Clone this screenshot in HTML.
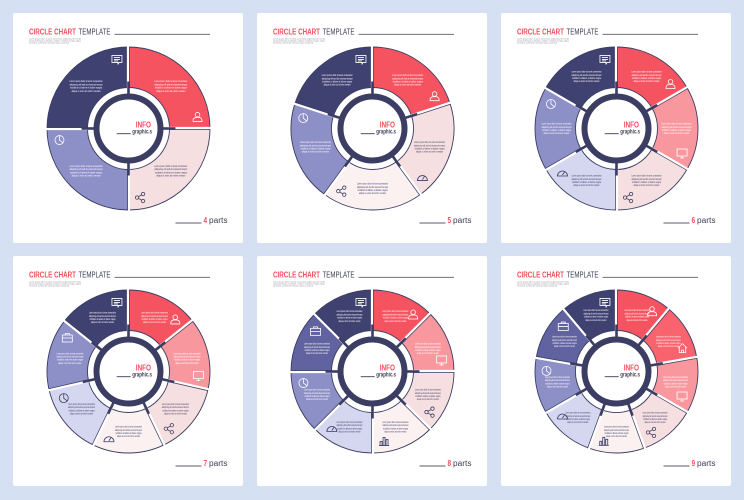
<!DOCTYPE html>
<html><head><meta charset="utf-8"><style>
body{margin:0;background:#d5e1f3}
svg{display:block}
.tt{font-family:"Liberation Sans",sans-serif;font-size:7.8px}
.ds{font-family:"Liberation Sans",sans-serif;font-size:1.8px;fill:#7a7a88}
.in{font-family:"Liberation Sans",sans-serif;font-weight:bold;font-size:8px;fill:#f04f5d;text-anchor:end}
.gs{font-family:"Liberation Sans",sans-serif;font-weight:bold;font-size:6px;fill:#3b3d55;text-anchor:end}
.pn{font-family:"Liberation Sans",sans-serif;font-weight:bold;font-size:7.8px;fill:#f04f5d}
.pt{font-family:"Liberation Sans",sans-serif;font-size:7.8px;fill:#3b3d55}
.tb text{font-family:"Liberation Sans",sans-serif;font-size:2.6px;text-anchor:middle}
.w text{fill:#fff}.d text{fill:#3b3d63}
.iw{fill:none;stroke:#fff;stroke-width:.8}
.id{fill:none;stroke:#3b3d63;stroke-width:.8}
.sg{stroke:#3b3d63;stroke-width:.9}
.rg{fill:#fff;stroke:#3b3d63;stroke-width:6}
</style></head><body>
<svg width="744" height="500" viewBox="0 0 744 500" xmlns="http://www.w3.org/2000/svg">
<defs>
<path id="s4" d="M0-81.5A81.5 81.5 0 0 1 81.5 0L41 0A41 41 0 0 0 0-41Z"/>
<path id="s5" d="M0-81.5A81.5 81.5 0 0 1 77.511-25.185L38.993-12.670A41 41 0 0 0 0-41Z"/>
<path id="s6" d="M0-81.5A81.5 81.5 0 0 1 70.581-40.75L35.507-20.5A41 41 0 0 0 0-41Z"/>
<path id="s7" d="M0-81.5A81.5 81.5 0 0 1 63.719-50.814L32.055-25.563A41 41 0 0 0 0-41Z"/>
<path id="s8" d="M0-81.5A81.5 81.5 0 0 1 57.629-57.629L28.991-28.991A41 41 0 0 0 0-41Z"/>
<path id="s9" d="M0-81.5A81.5 81.5 0 0 1 52.387-62.433L26.354-31.408A41 41 0 0 0 0-41Z"/>
<g id="sp"><line x1="-.5" y1="-39" x2="-.5" y2="-84" stroke="#fff" stroke-width="2.2"/><line x1="1" y1="-41" x2="1" y2="-81.5" stroke="#3b3d63" stroke-width=".7"/><line x1="0" y1="-33" x2="0" y2="-47" stroke="#3b3d63" stroke-width="2.6"/></g>
<g id="i-chat"><path d="M-5-4h10v7h-3l-1 2v-2h-6z"/><path d="M-3-2h6M-3 0h6M-3 1.5h4"/></g>
<g id="i-user"><circle cy="-2.2" r="2.3"/><path d="M-4.5 4.5v-1a3 3 0 0 1 3-3h3a3 3 0 0 1 3 3v1z"/></g>
<g id="i-pie"><circle r="4.5"/><path d="M0-4.5V0l3.5 2.8"/></g>
<g id="i-share"><circle cx="-3" cy="0" r="1.7"/><circle cx="3" cy="-3.5" r="1.7"/><circle cx="3" cy="3.5" r="1.7"/><path d="M-1.5-.9l3-1.7M-1.5.9l3 1.7"/></g>
<g id="i-gauge"><path d="M-5 3a5 5 0 1 1 10 0z"/><path d="M0 2l2-3"/></g>
<g id="i-mon"><rect x="-5" y="-4" width="10" height="7"/><path d="M-2 5h4M0 3v2"/></g>
<g id="i-case"><rect x="-5" y="-2.5" width="10" height="7"/><path d="M-2-2.5v-1.5h4v1.5M-5 .5h10"/></g>
<g id="i-home"><path d="M-4.5 0L0-4.5 4.5 0M-3.2-1.2V4.5h6.4V-1.2"/><path d="M-1 4.5v-2.5h2v2.5"/></g>
<g id="i-bars"><path d="M-5 5h10M-4 5v-4h2v4M-1 5v-8h2v8M2 5v-6h2v6"/></g>
</defs>
<rect width="744" height="500" fill="#d5e1f3"/>

<!-- CARD 1 : 4 parts -->
<g transform="translate(13,13)">
<rect width="230" height="230" rx="2" fill="#fff"/>
<text class="tt" x="16" y="21.3" textLength="47" lengthAdjust="spacingAndGlyphs" fill="#f04f5d" font-weight="bold">CIRCLE CHART</text>
<text class="tt" x="65.5" y="21.3" textLength="32" lengthAdjust="spacingAndGlyphs" fill="#3a3c52">TEMPLATE</text>
<line x1="101.5" y1="21.3" x2="197" y2="21.3" stroke="#5a5b6e" stroke-width=".9"/>
<text class="ds" x="16" y="26.3" textLength="52" lengthAdjust="spacingAndGlyphs">Lorem ipsum dolor sit amet consectetur adipiscing elit sed do</text>
<text class="ds" x="16" y="28.3" textLength="52" lengthAdjust="spacingAndGlyphs">eiusmod tempor incididunt ut labore et dolore magna aliqua</text>
<text class="ds" x="16" y="30.3" textLength="40" lengthAdjust="spacingAndGlyphs">Ut enim ad minim veniam quis nostrud</text>
<g transform="translate(115.5,115.5)">
<g class="sg">
<use href="#s4" fill="#f65360"/>
<use href="#s4" fill="#f6dfe0" transform="rotate(90)"/>
<use href="#s4" fill="#8d8fc7" transform="rotate(180)"/>
<use href="#s4" fill="#3f4171" transform="rotate(270)"/>
</g>
<use href="#sp"/><use href="#sp" transform="rotate(90)"/><use href="#sp" transform="rotate(180)"/><use href="#sp" transform="rotate(270)"/>
<circle class="rg" r="32"/>
<g class="tb w" transform="rotate(45) translate(0,-60) rotate(-45)"><text y="-3.9" textLength="33" lengthAdjust="spacingAndGlyphs">Lorem ipsum dolor sit amet consectetur</text><text y="-.7" textLength="33" lengthAdjust="spacingAndGlyphs">adipiscing elit sed do eiusmod tempor</text><text y="2.5" textLength="32" lengthAdjust="spacingAndGlyphs">incididunt ut labore et dolore magna</text><text y="5.7" textLength="29" lengthAdjust="spacingAndGlyphs">aliqua ut enim ad minim veniam</text></g>
<g class="tb d" transform="rotate(135) translate(0,-60) rotate(-135)"><text y="-3.9" textLength="33" lengthAdjust="spacingAndGlyphs">Lorem ipsum dolor sit amet consectetur</text><text y="-.7" textLength="33" lengthAdjust="spacingAndGlyphs">adipiscing elit sed do eiusmod tempor</text><text y="2.5" textLength="32" lengthAdjust="spacingAndGlyphs">incididunt ut labore et dolore magna</text><text y="5.7" textLength="29" lengthAdjust="spacingAndGlyphs">aliqua ut enim ad minim veniam</text></g>
<g class="tb w" transform="rotate(225) translate(0,-60) rotate(-225)"><text y="-3.9" textLength="33" lengthAdjust="spacingAndGlyphs">Lorem ipsum dolor sit amet consectetur</text><text y="-.7" textLength="33" lengthAdjust="spacingAndGlyphs">adipiscing elit sed do eiusmod tempor</text><text y="2.5" textLength="32" lengthAdjust="spacingAndGlyphs">incididunt ut labore et dolore magna</text><text y="5.7" textLength="29" lengthAdjust="spacingAndGlyphs">aliqua ut enim ad minim veniam</text></g>
<g class="tb w" transform="rotate(315) translate(0,-60) rotate(-315)"><text y="-3.9" textLength="33" lengthAdjust="spacingAndGlyphs">Lorem ipsum dolor sit amet consectetur</text><text y="-.7" textLength="33" lengthAdjust="spacingAndGlyphs">adipiscing elit sed do eiusmod tempor</text><text y="2.5" textLength="32" lengthAdjust="spacingAndGlyphs">incididunt ut labore et dolore magna</text><text y="5.7" textLength="29" lengthAdjust="spacingAndGlyphs">aliqua ut enim ad minim veniam</text></g>
<use href="#i-user" class="iw" transform="rotate(80.5) translate(0,-70) rotate(-80.5)"/>
<use href="#i-share" class="id" transform="rotate(170.5) translate(0,-70) rotate(-170.5)"/>
<use href="#i-pie" class="iw" transform="rotate(260.5) translate(0,-70) rotate(-260.5)"/>
<use href="#i-chat" class="iw" transform="rotate(350.5) translate(0,-70) rotate(-350.5)"/>
</g>
<text class="in" x="138" y="114.3" textLength="15.3" lengthAdjust="spacingAndGlyphs">INFO</text>
<text class="gs" x="139" y="120.4" textLength="19.7" lengthAdjust="spacingAndGlyphs">graphic.s</text>
<line x1="103.7" y1="120.7" x2="117.7" y2="120.7" stroke="#3b3d55" stroke-width=".9"/>
<line x1="162.5" y1="210" x2="188.5" y2="210" stroke="#5a5b6e" stroke-width=".9"/>
<text class="pn" x="190.5" y="210" textLength="3.6" lengthAdjust="spacingAndGlyphs">4</text>
<text class="pt" x="196" y="210" textLength="18.5" lengthAdjust="spacingAndGlyphs">parts</text>
</g>

<!-- CARD 2 : 5 parts -->
<g transform="translate(257,13)">
<rect width="230" height="230" rx="2" fill="#fff"/>
<text class="tt" x="16" y="21.3" textLength="47" lengthAdjust="spacingAndGlyphs" fill="#f04f5d" font-weight="bold">CIRCLE CHART</text>
<text class="tt" x="65.5" y="21.3" textLength="32" lengthAdjust="spacingAndGlyphs" fill="#3a3c52">TEMPLATE</text>
<line x1="101.5" y1="21.3" x2="197" y2="21.3" stroke="#5a5b6e" stroke-width=".9"/>
<text class="ds" x="16" y="26.3" textLength="52" lengthAdjust="spacingAndGlyphs">Lorem ipsum dolor sit amet consectetur adipiscing elit sed do</text>
<text class="ds" x="16" y="28.3" textLength="52" lengthAdjust="spacingAndGlyphs">eiusmod tempor incididunt ut labore et dolore magna aliqua</text>
<text class="ds" x="16" y="30.3" textLength="40" lengthAdjust="spacingAndGlyphs">Ut enim ad minim veniam quis nostrud</text>
<g transform="translate(115.5,115.5)">
<g class="sg">
<use href="#s5" fill="#f65360"/>
<use href="#s5" fill="#f6dfe0" transform="rotate(72)"/>
<use href="#s5" fill="#fbf1f1" transform="rotate(144)"/>
<use href="#s5" fill="#8d8fc7" transform="rotate(216)"/>
<use href="#s5" fill="#3f4171" transform="rotate(288)"/>
</g>
<use href="#sp"/><use href="#sp" transform="rotate(72)"/><use href="#sp" transform="rotate(144)"/><use href="#sp" transform="rotate(216)"/><use href="#sp" transform="rotate(288)"/>
<circle class="rg" r="32"/>
<g class="tb w" transform="rotate(36) translate(0,-60) rotate(-36)"><text y="-3.9" textLength="31" lengthAdjust="spacingAndGlyphs">Lorem ipsum dolor sit amet consectetur</text><text y="-.7" textLength="31" lengthAdjust="spacingAndGlyphs">adipiscing elit sed do eiusmod tempor</text><text y="2.5" textLength="30" lengthAdjust="spacingAndGlyphs">incididunt ut labore et dolore magna</text><text y="5.7" textLength="27" lengthAdjust="spacingAndGlyphs">aliqua ut enim ad minim veniam</text></g>
<g class="tb d" transform="rotate(108) translate(0,-60) rotate(-108)"><text y="-3.9" textLength="31" lengthAdjust="spacingAndGlyphs">Lorem ipsum dolor sit amet consectetur</text><text y="-.7" textLength="31" lengthAdjust="spacingAndGlyphs">adipiscing elit sed do eiusmod tempor</text><text y="2.5" textLength="30" lengthAdjust="spacingAndGlyphs">incididunt ut labore et dolore magna</text><text y="5.7" textLength="27" lengthAdjust="spacingAndGlyphs">aliqua ut enim ad minim veniam</text></g>
<g class="tb d" transform="rotate(180) translate(0,-60) rotate(-180)"><text y="-3.9" textLength="31" lengthAdjust="spacingAndGlyphs">Lorem ipsum dolor sit amet consectetur</text><text y="-.7" textLength="31" lengthAdjust="spacingAndGlyphs">adipiscing elit sed do eiusmod tempor</text><text y="2.5" textLength="30" lengthAdjust="spacingAndGlyphs">incididunt ut labore et dolore magna</text><text y="5.7" textLength="27" lengthAdjust="spacingAndGlyphs">aliqua ut enim ad minim veniam</text></g>
<g class="tb w" transform="rotate(252) translate(0,-60) rotate(-252)"><text y="-3.9" textLength="31" lengthAdjust="spacingAndGlyphs">Lorem ipsum dolor sit amet consectetur</text><text y="-.7" textLength="31" lengthAdjust="spacingAndGlyphs">adipiscing elit sed do eiusmod tempor</text><text y="2.5" textLength="30" lengthAdjust="spacingAndGlyphs">incididunt ut labore et dolore magna</text><text y="5.7" textLength="27" lengthAdjust="spacingAndGlyphs">aliqua ut enim ad minim veniam</text></g>
<g class="tb w" transform="rotate(324) translate(0,-60) rotate(-324)"><text y="-3.9" textLength="31" lengthAdjust="spacingAndGlyphs">Lorem ipsum dolor sit amet consectetur</text><text y="-.7" textLength="31" lengthAdjust="spacingAndGlyphs">adipiscing elit sed do eiusmod tempor</text><text y="2.5" textLength="30" lengthAdjust="spacingAndGlyphs">incididunt ut labore et dolore magna</text><text y="5.7" textLength="27" lengthAdjust="spacingAndGlyphs">aliqua ut enim ad minim veniam</text></g>
<use href="#i-user" class="iw" transform="rotate(62.5) translate(0,-70) rotate(-62.5)"/>
<use href="#i-gauge" class="id" transform="rotate(134.5) translate(0,-70) rotate(-134.5)"/>
<use href="#i-share" class="id" transform="rotate(206.5) translate(0,-70) rotate(-206.5)"/>
<use href="#i-pie" class="iw" transform="rotate(278.5) translate(0,-70) rotate(-278.5)"/>
<use href="#i-chat" class="iw" transform="rotate(350.5) translate(0,-70) rotate(-350.5)"/>
</g>
<text class="in" x="138" y="114.3" textLength="15.3" lengthAdjust="spacingAndGlyphs">INFO</text>
<text class="gs" x="139" y="120.4" textLength="19.7" lengthAdjust="spacingAndGlyphs">graphic.s</text>
<line x1="103.7" y1="120.7" x2="117.7" y2="120.7" stroke="#3b3d55" stroke-width=".9"/>
<line x1="162.5" y1="210" x2="188.5" y2="210" stroke="#5a5b6e" stroke-width=".9"/>
<text class="pn" x="190.5" y="210" textLength="3.6" lengthAdjust="spacingAndGlyphs">5</text>
<text class="pt" x="196" y="210" textLength="18.5" lengthAdjust="spacingAndGlyphs">parts</text>
</g>

<!-- CARD 3 : 6 parts -->
<g transform="translate(501,13)">
<rect width="230" height="230" rx="2" fill="#fff"/>
<text class="tt" x="16" y="21.3" textLength="47" lengthAdjust="spacingAndGlyphs" fill="#f04f5d" font-weight="bold">CIRCLE CHART</text>
<text class="tt" x="65.5" y="21.3" textLength="32" lengthAdjust="spacingAndGlyphs" fill="#3a3c52">TEMPLATE</text>
<line x1="101.5" y1="21.3" x2="197" y2="21.3" stroke="#5a5b6e" stroke-width=".9"/>
<text class="ds" x="16" y="26.3" textLength="52" lengthAdjust="spacingAndGlyphs">Lorem ipsum dolor sit amet consectetur adipiscing elit sed do</text>
<text class="ds" x="16" y="28.3" textLength="52" lengthAdjust="spacingAndGlyphs">eiusmod tempor incididunt ut labore et dolore magna aliqua</text>
<text class="ds" x="16" y="30.3" textLength="40" lengthAdjust="spacingAndGlyphs">Ut enim ad minim veniam quis nostrud</text>
<g transform="translate(115.5,115.5)">
<g class="sg">
<use href="#s6" fill="#f65360"/>
<use href="#s6" fill="#f8989e" transform="rotate(60)"/>
<use href="#s6" fill="#f6dfe0" transform="rotate(120)"/>
<use href="#s6" fill="#d5d6f0" transform="rotate(180)"/>
<use href="#s6" fill="#8d8fc7" transform="rotate(240)"/>
<use href="#s6" fill="#3f4171" transform="rotate(300)"/>
</g>
<use href="#sp"/><use href="#sp" transform="rotate(60)"/><use href="#sp" transform="rotate(120)"/><use href="#sp" transform="rotate(180)"/><use href="#sp" transform="rotate(240)"/><use href="#sp" transform="rotate(300)"/>
<circle class="rg" r="32"/>
<g class="tb w" transform="rotate(30) translate(0,-60) rotate(-30)"><text y="-3.9" textLength="30" lengthAdjust="spacingAndGlyphs">Lorem ipsum dolor sit amet consectetur</text><text y="-.7" textLength="30" lengthAdjust="spacingAndGlyphs">adipiscing elit sed do eiusmod tempor</text><text y="2.5" textLength="29" lengthAdjust="spacingAndGlyphs">incididunt ut labore et dolore magna</text><text y="5.7" textLength="26" lengthAdjust="spacingAndGlyphs">aliqua ut enim ad minim veniam</text></g>
<g class="tb w" transform="rotate(90) translate(0,-60) rotate(-90)"><text y="-3.9" textLength="30" lengthAdjust="spacingAndGlyphs">Lorem ipsum dolor sit amet consectetur</text><text y="-.7" textLength="30" lengthAdjust="spacingAndGlyphs">adipiscing elit sed do eiusmod tempor</text><text y="2.5" textLength="29" lengthAdjust="spacingAndGlyphs">incididunt ut labore et dolore magna</text><text y="5.7" textLength="26" lengthAdjust="spacingAndGlyphs">aliqua ut enim ad minim veniam</text></g>
<g class="tb d" transform="rotate(150) translate(0,-60) rotate(-150)"><text y="-3.9" textLength="30" lengthAdjust="spacingAndGlyphs">Lorem ipsum dolor sit amet consectetur</text><text y="-.7" textLength="30" lengthAdjust="spacingAndGlyphs">adipiscing elit sed do eiusmod tempor</text><text y="2.5" textLength="29" lengthAdjust="spacingAndGlyphs">incididunt ut labore et dolore magna</text><text y="5.7" textLength="26" lengthAdjust="spacingAndGlyphs">aliqua ut enim ad minim veniam</text></g>
<g class="tb d" transform="rotate(210) translate(0,-60) rotate(-210)"><text y="-3.9" textLength="30" lengthAdjust="spacingAndGlyphs">Lorem ipsum dolor sit amet consectetur</text><text y="-.7" textLength="30" lengthAdjust="spacingAndGlyphs">adipiscing elit sed do eiusmod tempor</text><text y="2.5" textLength="29" lengthAdjust="spacingAndGlyphs">incididunt ut labore et dolore magna</text><text y="5.7" textLength="26" lengthAdjust="spacingAndGlyphs">aliqua ut enim ad minim veniam</text></g>
<g class="tb w" transform="rotate(270) translate(0,-60) rotate(-270)"><text y="-3.9" textLength="30" lengthAdjust="spacingAndGlyphs">Lorem ipsum dolor sit amet consectetur</text><text y="-.7" textLength="30" lengthAdjust="spacingAndGlyphs">adipiscing elit sed do eiusmod tempor</text><text y="2.5" textLength="29" lengthAdjust="spacingAndGlyphs">incididunt ut labore et dolore magna</text><text y="5.7" textLength="26" lengthAdjust="spacingAndGlyphs">aliqua ut enim ad minim veniam</text></g>
<g class="tb w" transform="rotate(330) translate(0,-60) rotate(-330)"><text y="-3.9" textLength="30" lengthAdjust="spacingAndGlyphs">Lorem ipsum dolor sit amet consectetur</text><text y="-.7" textLength="30" lengthAdjust="spacingAndGlyphs">adipiscing elit sed do eiusmod tempor</text><text y="2.5" textLength="29" lengthAdjust="spacingAndGlyphs">incididunt ut labore et dolore magna</text><text y="5.7" textLength="26" lengthAdjust="spacingAndGlyphs">aliqua ut enim ad minim veniam</text></g>
<use href="#i-user" class="iw" transform="rotate(50.5) translate(0,-70) rotate(-50.5)"/>
<use href="#i-mon" class="iw" transform="rotate(110.5) translate(0,-70) rotate(-110.5)"/>
<use href="#i-share" class="id" transform="rotate(170.5) translate(0,-70) rotate(-170.5)"/>
<use href="#i-gauge" class="id" transform="rotate(230.5) translate(0,-70) rotate(-230.5)"/>
<use href="#i-pie" class="iw" transform="rotate(290.5) translate(0,-70) rotate(-290.5)"/>
<use href="#i-chat" class="iw" transform="rotate(350.5) translate(0,-70) rotate(-350.5)"/>
</g>
<text class="in" x="138" y="114.3" textLength="15.3" lengthAdjust="spacingAndGlyphs">INFO</text>
<text class="gs" x="139" y="120.4" textLength="19.7" lengthAdjust="spacingAndGlyphs">graphic.s</text>
<line x1="103.7" y1="120.7" x2="117.7" y2="120.7" stroke="#3b3d55" stroke-width=".9"/>
<line x1="162.5" y1="210" x2="188.5" y2="210" stroke="#5a5b6e" stroke-width=".9"/>
<text class="pn" x="190.5" y="210" textLength="3.6" lengthAdjust="spacingAndGlyphs">6</text>
<text class="pt" x="196" y="210" textLength="18.5" lengthAdjust="spacingAndGlyphs">parts</text>
</g>

<!-- CARD 4 : 7 parts -->
<g transform="translate(13,256)">
<rect width="230" height="230" rx="2" fill="#fff"/>
<text class="tt" x="16" y="21.3" textLength="47" lengthAdjust="spacingAndGlyphs" fill="#f04f5d" font-weight="bold">CIRCLE CHART</text>
<text class="tt" x="65.5" y="21.3" textLength="32" lengthAdjust="spacingAndGlyphs" fill="#3a3c52">TEMPLATE</text>
<line x1="101.5" y1="21.3" x2="197" y2="21.3" stroke="#5a5b6e" stroke-width=".9"/>
<text class="ds" x="16" y="26.3" textLength="52" lengthAdjust="spacingAndGlyphs">Lorem ipsum dolor sit amet consectetur adipiscing elit sed do</text>
<text class="ds" x="16" y="28.3" textLength="52" lengthAdjust="spacingAndGlyphs">eiusmod tempor incididunt ut labore et dolore magna aliqua</text>
<text class="ds" x="16" y="30.3" textLength="40" lengthAdjust="spacingAndGlyphs">Ut enim ad minim veniam quis nostrud</text>
<g transform="translate(115.5,115.5)">
<g class="sg">
<use href="#s7" fill="#f65360"/>
<use href="#s7" fill="#f8989e" transform="rotate(51.4286)"/>
<use href="#s7" fill="#f6dfe0" transform="rotate(102.857)"/>
<use href="#s7" fill="#fbf1f1" transform="rotate(154.286)"/>
<use href="#s7" fill="#d5d6f0" transform="rotate(205.714)"/>
<use href="#s7" fill="#8d8fc7" transform="rotate(257.143)"/>
<use href="#s7" fill="#3f4171" transform="rotate(308.571)"/>
</g>
<use href="#sp"/><use href="#sp" transform="rotate(51.4286)"/><use href="#sp" transform="rotate(102.857)"/><use href="#sp" transform="rotate(154.286)"/><use href="#sp" transform="rotate(205.714)"/><use href="#sp" transform="rotate(257.143)"/><use href="#sp" transform="rotate(308.571)"/>
<circle class="rg" r="32"/>
<g class="tb w" transform="rotate(25.71) translate(0,-60) rotate(-25.71)"><text y="-3.9" textLength="27" lengthAdjust="spacingAndGlyphs">Lorem ipsum dolor sit amet consectetur</text><text y="-.7" textLength="27" lengthAdjust="spacingAndGlyphs">adipiscing elit sed do eiusmod tempor</text><text y="2.5" textLength="26" lengthAdjust="spacingAndGlyphs">incididunt ut labore et dolore magna</text><text y="5.7" textLength="23" lengthAdjust="spacingAndGlyphs">aliqua ut enim ad minim veniam</text></g>
<g class="tb w" transform="rotate(77.14) translate(0,-60) rotate(-77.14)"><text y="-3.9" textLength="27" lengthAdjust="spacingAndGlyphs">Lorem ipsum dolor sit amet consectetur</text><text y="-.7" textLength="27" lengthAdjust="spacingAndGlyphs">adipiscing elit sed do eiusmod tempor</text><text y="2.5" textLength="26" lengthAdjust="spacingAndGlyphs">incididunt ut labore et dolore magna</text><text y="5.7" textLength="23" lengthAdjust="spacingAndGlyphs">aliqua ut enim ad minim veniam</text></g>
<g class="tb d" transform="rotate(128.57) translate(0,-60) rotate(-128.57)"><text y="-3.9" textLength="27" lengthAdjust="spacingAndGlyphs">Lorem ipsum dolor sit amet consectetur</text><text y="-.7" textLength="27" lengthAdjust="spacingAndGlyphs">adipiscing elit sed do eiusmod tempor</text><text y="2.5" textLength="26" lengthAdjust="spacingAndGlyphs">incididunt ut labore et dolore magna</text><text y="5.7" textLength="23" lengthAdjust="spacingAndGlyphs">aliqua ut enim ad minim veniam</text></g>
<g class="tb d" transform="rotate(180) translate(0,-60) rotate(-180)"><text y="-3.9" textLength="27" lengthAdjust="spacingAndGlyphs">Lorem ipsum dolor sit amet consectetur</text><text y="-.7" textLength="27" lengthAdjust="spacingAndGlyphs">adipiscing elit sed do eiusmod tempor</text><text y="2.5" textLength="26" lengthAdjust="spacingAndGlyphs">incididunt ut labore et dolore magna</text><text y="5.7" textLength="23" lengthAdjust="spacingAndGlyphs">aliqua ut enim ad minim veniam</text></g>
<g class="tb d" transform="rotate(231.43) translate(0,-60) rotate(-231.43)"><text y="-3.9" textLength="27" lengthAdjust="spacingAndGlyphs">Lorem ipsum dolor sit amet consectetur</text><text y="-.7" textLength="27" lengthAdjust="spacingAndGlyphs">adipiscing elit sed do eiusmod tempor</text><text y="2.5" textLength="26" lengthAdjust="spacingAndGlyphs">incididunt ut labore et dolore magna</text><text y="5.7" textLength="23" lengthAdjust="spacingAndGlyphs">aliqua ut enim ad minim veniam</text></g>
<g class="tb w" transform="rotate(282.86) translate(0,-60) rotate(-282.86)"><text y="-3.9" textLength="27" lengthAdjust="spacingAndGlyphs">Lorem ipsum dolor sit amet consectetur</text><text y="-.7" textLength="27" lengthAdjust="spacingAndGlyphs">adipiscing elit sed do eiusmod tempor</text><text y="2.5" textLength="26" lengthAdjust="spacingAndGlyphs">incididunt ut labore et dolore magna</text><text y="5.7" textLength="23" lengthAdjust="spacingAndGlyphs">aliqua ut enim ad minim veniam</text></g>
<g class="tb w" transform="rotate(334.29) translate(0,-60) rotate(-334.29)"><text y="-3.9" textLength="27" lengthAdjust="spacingAndGlyphs">Lorem ipsum dolor sit amet consectetur</text><text y="-.7" textLength="27" lengthAdjust="spacingAndGlyphs">adipiscing elit sed do eiusmod tempor</text><text y="2.5" textLength="26" lengthAdjust="spacingAndGlyphs">incididunt ut labore et dolore magna</text><text y="5.7" textLength="23" lengthAdjust="spacingAndGlyphs">aliqua ut enim ad minim veniam</text></g>
<use href="#i-user" class="iw" transform="rotate(41.93) translate(0,-70) rotate(-41.93)"/>
<use href="#i-mon" class="iw" transform="rotate(93.36) translate(0,-70) rotate(-93.36)"/>
<use href="#i-share" class="id" transform="rotate(144.79) translate(0,-70) rotate(-144.79)"/>
<use href="#i-gauge" class="id" transform="rotate(196.21) translate(0,-70) rotate(-196.21)"/>
<use href="#i-pie" class="id" transform="rotate(247.64) translate(0,-70) rotate(-247.64)"/>
<use href="#i-case" class="iw" transform="rotate(299.07) translate(0,-70) rotate(-299.07)"/>
<use href="#i-chat" class="iw" transform="rotate(350.5) translate(0,-70) rotate(-350.5)"/>
</g>
<text class="in" x="138" y="114.3" textLength="15.3" lengthAdjust="spacingAndGlyphs">INFO</text>
<text class="gs" x="139" y="120.4" textLength="19.7" lengthAdjust="spacingAndGlyphs">graphic.s</text>
<line x1="103.7" y1="120.7" x2="117.7" y2="120.7" stroke="#3b3d55" stroke-width=".9"/>
<line x1="162.5" y1="210" x2="188.5" y2="210" stroke="#5a5b6e" stroke-width=".9"/>
<text class="pn" x="190.5" y="210" textLength="3.6" lengthAdjust="spacingAndGlyphs">7</text>
<text class="pt" x="196" y="210" textLength="18.5" lengthAdjust="spacingAndGlyphs">parts</text>
</g>

<!-- CARD 5 : 8 parts -->
<g transform="translate(257,256)">
<rect width="230" height="230" rx="2" fill="#fff"/>
<text class="tt" x="16" y="21.3" textLength="47" lengthAdjust="spacingAndGlyphs" fill="#f04f5d" font-weight="bold">CIRCLE CHART</text>
<text class="tt" x="65.5" y="21.3" textLength="32" lengthAdjust="spacingAndGlyphs" fill="#3a3c52">TEMPLATE</text>
<line x1="101.5" y1="21.3" x2="197" y2="21.3" stroke="#5a5b6e" stroke-width=".9"/>
<text class="ds" x="16" y="26.3" textLength="52" lengthAdjust="spacingAndGlyphs">Lorem ipsum dolor sit amet consectetur adipiscing elit sed do</text>
<text class="ds" x="16" y="28.3" textLength="52" lengthAdjust="spacingAndGlyphs">eiusmod tempor incididunt ut labore et dolore magna aliqua</text>
<text class="ds" x="16" y="30.3" textLength="40" lengthAdjust="spacingAndGlyphs">Ut enim ad minim veniam quis nostrud</text>
<g transform="translate(115.5,115.5)">
<g class="sg">
<use href="#s8" fill="#f65360"/>
<use href="#s8" fill="#f8989e" transform="rotate(45)"/>
<use href="#s8" fill="#f6dfe0" transform="rotate(90)"/>
<use href="#s8" fill="#fbf1f1" transform="rotate(135)"/>
<use href="#s8" fill="#d5d6f0" transform="rotate(180)"/>
<use href="#s8" fill="#8d8fc7" transform="rotate(225)"/>
<use href="#s8" fill="#6163a1" transform="rotate(270)"/>
<use href="#s8" fill="#3f4171" transform="rotate(315)"/>
</g>
<use href="#sp"/><use href="#sp" transform="rotate(45)"/><use href="#sp" transform="rotate(90)"/><use href="#sp" transform="rotate(135)"/><use href="#sp" transform="rotate(180)"/><use href="#sp" transform="rotate(225)"/><use href="#sp" transform="rotate(270)"/><use href="#sp" transform="rotate(315)"/>
<circle class="rg" r="32"/>
<g class="tb w" transform="rotate(22.5) translate(0,-60) rotate(-22.5)"><text y="-3.9" textLength="26" lengthAdjust="spacingAndGlyphs">Lorem ipsum dolor sit amet consectetur</text><text y="-.7" textLength="26" lengthAdjust="spacingAndGlyphs">adipiscing elit sed do eiusmod tempor</text><text y="2.5" textLength="25" lengthAdjust="spacingAndGlyphs">incididunt ut labore et dolore magna</text><text y="5.7" textLength="22" lengthAdjust="spacingAndGlyphs">aliqua ut enim ad minim veniam</text></g>
<g class="tb w" transform="rotate(67.5) translate(0,-60) rotate(-67.5)"><text y="-3.9" textLength="26" lengthAdjust="spacingAndGlyphs">Lorem ipsum dolor sit amet consectetur</text><text y="-.7" textLength="26" lengthAdjust="spacingAndGlyphs">adipiscing elit sed do eiusmod tempor</text><text y="2.5" textLength="25" lengthAdjust="spacingAndGlyphs">incididunt ut labore et dolore magna</text><text y="5.7" textLength="22" lengthAdjust="spacingAndGlyphs">aliqua ut enim ad minim veniam</text></g>
<g class="tb d" transform="rotate(112.5) translate(0,-60) rotate(-112.5)"><text y="-3.9" textLength="26" lengthAdjust="spacingAndGlyphs">Lorem ipsum dolor sit amet consectetur</text><text y="-.7" textLength="26" lengthAdjust="spacingAndGlyphs">adipiscing elit sed do eiusmod tempor</text><text y="2.5" textLength="25" lengthAdjust="spacingAndGlyphs">incididunt ut labore et dolore magna</text><text y="5.7" textLength="22" lengthAdjust="spacingAndGlyphs">aliqua ut enim ad minim veniam</text></g>
<g class="tb d" transform="rotate(157.5) translate(0,-60) rotate(-157.5)"><text y="-3.9" textLength="26" lengthAdjust="spacingAndGlyphs">Lorem ipsum dolor sit amet consectetur</text><text y="-.7" textLength="26" lengthAdjust="spacingAndGlyphs">adipiscing elit sed do eiusmod tempor</text><text y="2.5" textLength="25" lengthAdjust="spacingAndGlyphs">incididunt ut labore et dolore magna</text><text y="5.7" textLength="22" lengthAdjust="spacingAndGlyphs">aliqua ut enim ad minim veniam</text></g>
<g class="tb d" transform="rotate(202.5) translate(0,-60) rotate(-202.5)"><text y="-3.9" textLength="26" lengthAdjust="spacingAndGlyphs">Lorem ipsum dolor sit amet consectetur</text><text y="-.7" textLength="26" lengthAdjust="spacingAndGlyphs">adipiscing elit sed do eiusmod tempor</text><text y="2.5" textLength="25" lengthAdjust="spacingAndGlyphs">incididunt ut labore et dolore magna</text><text y="5.7" textLength="22" lengthAdjust="spacingAndGlyphs">aliqua ut enim ad minim veniam</text></g>
<g class="tb w" transform="rotate(247.5) translate(0,-60) rotate(-247.5)"><text y="-3.9" textLength="26" lengthAdjust="spacingAndGlyphs">Lorem ipsum dolor sit amet consectetur</text><text y="-.7" textLength="26" lengthAdjust="spacingAndGlyphs">adipiscing elit sed do eiusmod tempor</text><text y="2.5" textLength="25" lengthAdjust="spacingAndGlyphs">incididunt ut labore et dolore magna</text><text y="5.7" textLength="22" lengthAdjust="spacingAndGlyphs">aliqua ut enim ad minim veniam</text></g>
<g class="tb w" transform="rotate(292.5) translate(0,-60) rotate(-292.5)"><text y="-3.9" textLength="26" lengthAdjust="spacingAndGlyphs">Lorem ipsum dolor sit amet consectetur</text><text y="-.7" textLength="26" lengthAdjust="spacingAndGlyphs">adipiscing elit sed do eiusmod tempor</text><text y="2.5" textLength="25" lengthAdjust="spacingAndGlyphs">incididunt ut labore et dolore magna</text><text y="5.7" textLength="22" lengthAdjust="spacingAndGlyphs">aliqua ut enim ad minim veniam</text></g>
<g class="tb w" transform="rotate(337.5) translate(0,-60) rotate(-337.5)"><text y="-3.9" textLength="26" lengthAdjust="spacingAndGlyphs">Lorem ipsum dolor sit amet consectetur</text><text y="-.7" textLength="26" lengthAdjust="spacingAndGlyphs">adipiscing elit sed do eiusmod tempor</text><text y="2.5" textLength="25" lengthAdjust="spacingAndGlyphs">incididunt ut labore et dolore magna</text><text y="5.7" textLength="22" lengthAdjust="spacingAndGlyphs">aliqua ut enim ad minim veniam</text></g>
<use href="#i-user" class="iw" transform="rotate(35.5) translate(0,-70) rotate(-35.5)"/>
<use href="#i-mon" class="iw" transform="rotate(80.5) translate(0,-70) rotate(-80.5)"/>
<use href="#i-share" class="id" transform="rotate(125.5) translate(0,-70) rotate(-125.5)"/>
<use href="#i-bars" class="id" transform="rotate(170.5) translate(0,-70) rotate(-170.5)"/>
<use href="#i-gauge" class="id" transform="rotate(215.5) translate(0,-70) rotate(-215.5)"/>
<use href="#i-pie" class="iw" transform="rotate(260.5) translate(0,-70) rotate(-260.5)"/>
<use href="#i-case" class="iw" transform="rotate(305.5) translate(0,-70) rotate(-305.5)"/>
<use href="#i-chat" class="iw" transform="rotate(350.5) translate(0,-70) rotate(-350.5)"/>
</g>
<text class="in" x="138" y="114.3" textLength="15.3" lengthAdjust="spacingAndGlyphs">INFO</text>
<text class="gs" x="139" y="120.4" textLength="19.7" lengthAdjust="spacingAndGlyphs">graphic.s</text>
<line x1="103.7" y1="120.7" x2="117.7" y2="120.7" stroke="#3b3d55" stroke-width=".9"/>
<line x1="162.5" y1="210" x2="188.5" y2="210" stroke="#5a5b6e" stroke-width=".9"/>
<text class="pn" x="190.5" y="210" textLength="3.6" lengthAdjust="spacingAndGlyphs">8</text>
<text class="pt" x="196" y="210" textLength="18.5" lengthAdjust="spacingAndGlyphs">parts</text>
</g>

<!-- CARD 6 : 9 parts -->
<g transform="translate(501,256)">
<rect width="230" height="230" rx="2" fill="#fff"/>
<text class="tt" x="16" y="21.3" textLength="47" lengthAdjust="spacingAndGlyphs" fill="#f04f5d" font-weight="bold">CIRCLE CHART</text>
<text class="tt" x="65.5" y="21.3" textLength="32" lengthAdjust="spacingAndGlyphs" fill="#3a3c52">TEMPLATE</text>
<line x1="101.5" y1="21.3" x2="197" y2="21.3" stroke="#5a5b6e" stroke-width=".9"/>
<text class="ds" x="16" y="26.3" textLength="52" lengthAdjust="spacingAndGlyphs">Lorem ipsum dolor sit amet consectetur adipiscing elit sed do</text>
<text class="ds" x="16" y="28.3" textLength="52" lengthAdjust="spacingAndGlyphs">eiusmod tempor incididunt ut labore et dolore magna aliqua</text>
<text class="ds" x="16" y="30.3" textLength="40" lengthAdjust="spacingAndGlyphs">Ut enim ad minim veniam quis nostrud</text>
<g transform="translate(115.5,115.5)">
<g class="sg">
<use href="#s9" fill="#f65360"/>
<use href="#s9" fill="#f8636e" transform="rotate(40)"/>
<use href="#s9" fill="#f8989e" transform="rotate(80)"/>
<use href="#s9" fill="#f6dfe0" transform="rotate(120)"/>
<use href="#s9" fill="#fbf1f1" transform="rotate(160)"/>
<use href="#s9" fill="#d5d6f0" transform="rotate(200)"/>
<use href="#s9" fill="#8d8fc7" transform="rotate(240)"/>
<use href="#s9" fill="#6163a1" transform="rotate(280)"/>
<use href="#s9" fill="#3f4171" transform="rotate(320)"/>
</g>
<use href="#sp"/><use href="#sp" transform="rotate(40)"/><use href="#sp" transform="rotate(80)"/><use href="#sp" transform="rotate(120)"/><use href="#sp" transform="rotate(160)"/><use href="#sp" transform="rotate(200)"/><use href="#sp" transform="rotate(240)"/><use href="#sp" transform="rotate(280)"/><use href="#sp" transform="rotate(320)"/>
<circle class="rg" r="32"/>
<g class="tb w" transform="rotate(20) translate(0,-60) rotate(-20)"><text y="-3.9" textLength="25" lengthAdjust="spacingAndGlyphs">Lorem ipsum dolor sit amet consectetur</text><text y="-.7" textLength="25" lengthAdjust="spacingAndGlyphs">adipiscing elit sed do eiusmod tempor</text><text y="2.5" textLength="24" lengthAdjust="spacingAndGlyphs">incididunt ut labore et dolore magna</text><text y="5.7" textLength="21" lengthAdjust="spacingAndGlyphs">aliqua ut enim ad minim veniam</text></g>
<g class="tb w" transform="rotate(60) translate(0,-60) rotate(-60)"><text y="-3.9" textLength="25" lengthAdjust="spacingAndGlyphs">Lorem ipsum dolor sit amet consectetur</text><text y="-.7" textLength="25" lengthAdjust="spacingAndGlyphs">adipiscing elit sed do eiusmod tempor</text><text y="2.5" textLength="24" lengthAdjust="spacingAndGlyphs">incididunt ut labore et dolore magna</text><text y="5.7" textLength="21" lengthAdjust="spacingAndGlyphs">aliqua ut enim ad minim veniam</text></g>
<g class="tb w" transform="rotate(100) translate(0,-60) rotate(-100)"><text y="-3.9" textLength="25" lengthAdjust="spacingAndGlyphs">Lorem ipsum dolor sit amet consectetur</text><text y="-.7" textLength="25" lengthAdjust="spacingAndGlyphs">adipiscing elit sed do eiusmod tempor</text><text y="2.5" textLength="24" lengthAdjust="spacingAndGlyphs">incididunt ut labore et dolore magna</text><text y="5.7" textLength="21" lengthAdjust="spacingAndGlyphs">aliqua ut enim ad minim veniam</text></g>
<g class="tb d" transform="rotate(140) translate(0,-60) rotate(-140)"><text y="-3.9" textLength="25" lengthAdjust="spacingAndGlyphs">Lorem ipsum dolor sit amet consectetur</text><text y="-.7" textLength="25" lengthAdjust="spacingAndGlyphs">adipiscing elit sed do eiusmod tempor</text><text y="2.5" textLength="24" lengthAdjust="spacingAndGlyphs">incididunt ut labore et dolore magna</text><text y="5.7" textLength="21" lengthAdjust="spacingAndGlyphs">aliqua ut enim ad minim veniam</text></g>
<g class="tb d" transform="rotate(180) translate(0,-60) rotate(-180)"><text y="-3.9" textLength="25" lengthAdjust="spacingAndGlyphs">Lorem ipsum dolor sit amet consectetur</text><text y="-.7" textLength="25" lengthAdjust="spacingAndGlyphs">adipiscing elit sed do eiusmod tempor</text><text y="2.5" textLength="24" lengthAdjust="spacingAndGlyphs">incididunt ut labore et dolore magna</text><text y="5.7" textLength="21" lengthAdjust="spacingAndGlyphs">aliqua ut enim ad minim veniam</text></g>
<g class="tb d" transform="rotate(220) translate(0,-60) rotate(-220)"><text y="-3.9" textLength="25" lengthAdjust="spacingAndGlyphs">Lorem ipsum dolor sit amet consectetur</text><text y="-.7" textLength="25" lengthAdjust="spacingAndGlyphs">adipiscing elit sed do eiusmod tempor</text><text y="2.5" textLength="24" lengthAdjust="spacingAndGlyphs">incididunt ut labore et dolore magna</text><text y="5.7" textLength="21" lengthAdjust="spacingAndGlyphs">aliqua ut enim ad minim veniam</text></g>
<g class="tb w" transform="rotate(260) translate(0,-60) rotate(-260)"><text y="-3.9" textLength="25" lengthAdjust="spacingAndGlyphs">Lorem ipsum dolor sit amet consectetur</text><text y="-.7" textLength="25" lengthAdjust="spacingAndGlyphs">adipiscing elit sed do eiusmod tempor</text><text y="2.5" textLength="24" lengthAdjust="spacingAndGlyphs">incididunt ut labore et dolore magna</text><text y="5.7" textLength="21" lengthAdjust="spacingAndGlyphs">aliqua ut enim ad minim veniam</text></g>
<g class="tb w" transform="rotate(300) translate(0,-60) rotate(-300)"><text y="-3.9" textLength="25" lengthAdjust="spacingAndGlyphs">Lorem ipsum dolor sit amet consectetur</text><text y="-.7" textLength="25" lengthAdjust="spacingAndGlyphs">adipiscing elit sed do eiusmod tempor</text><text y="2.5" textLength="24" lengthAdjust="spacingAndGlyphs">incididunt ut labore et dolore magna</text><text y="5.7" textLength="21" lengthAdjust="spacingAndGlyphs">aliqua ut enim ad minim veniam</text></g>
<g class="tb w" transform="rotate(340) translate(0,-60) rotate(-340)"><text y="-3.9" textLength="25" lengthAdjust="spacingAndGlyphs">Lorem ipsum dolor sit amet consectetur</text><text y="-.7" textLength="25" lengthAdjust="spacingAndGlyphs">adipiscing elit sed do eiusmod tempor</text><text y="2.5" textLength="24" lengthAdjust="spacingAndGlyphs">incididunt ut labore et dolore magna</text><text y="5.7" textLength="21" lengthAdjust="spacingAndGlyphs">aliqua ut enim ad minim veniam</text></g>
<use href="#i-user" class="iw" transform="rotate(30.5) translate(0,-70) rotate(-30.5)"/>
<use href="#i-home" class="iw" transform="rotate(70.5) translate(0,-70) rotate(-70.5)"/>
<use href="#i-mon" class="iw" transform="rotate(110.5) translate(0,-70) rotate(-110.5)"/>
<use href="#i-share" class="id" transform="rotate(150.5) translate(0,-70) rotate(-150.5)"/>
<use href="#i-bars" class="id" transform="rotate(190.5) translate(0,-70) rotate(-190.5)"/>
<use href="#i-gauge" class="id" transform="rotate(230.5) translate(0,-70) rotate(-230.5)"/>
<use href="#i-pie" class="iw" transform="rotate(270.5) translate(0,-70) rotate(-270.5)"/>
<use href="#i-case" class="iw" transform="rotate(310.5) translate(0,-70) rotate(-310.5)"/>
<use href="#i-chat" class="iw" transform="rotate(350.5) translate(0,-70) rotate(-350.5)"/>
</g>
<text class="in" x="138" y="114.3" textLength="15.3" lengthAdjust="spacingAndGlyphs">INFO</text>
<text class="gs" x="139" y="120.4" textLength="19.7" lengthAdjust="spacingAndGlyphs">graphic.s</text>
<line x1="103.7" y1="120.7" x2="117.7" y2="120.7" stroke="#3b3d55" stroke-width=".9"/>
<line x1="162.5" y1="210" x2="188.5" y2="210" stroke="#5a5b6e" stroke-width=".9"/>
<text class="pn" x="190.5" y="210" textLength="3.6" lengthAdjust="spacingAndGlyphs">9</text>
<text class="pt" x="196" y="210" textLength="18.5" lengthAdjust="spacingAndGlyphs">parts</text>
</g>
</svg>
</body></html>
